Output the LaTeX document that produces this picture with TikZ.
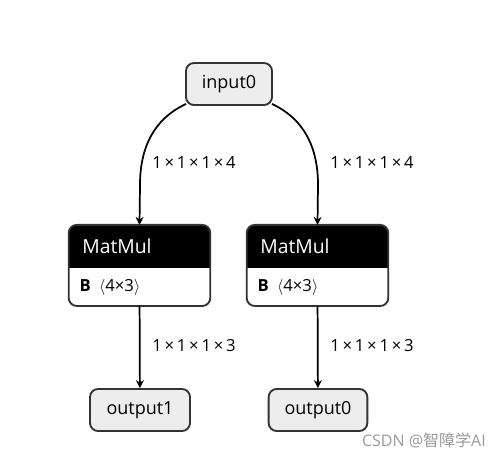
\documentclass[tikz,border=0pt]{standalone}
\usepackage{fontspec}
\setmainfont{Open Sans}
\newfontfamily\cjkfont{Noto Sans CJK SC}
\usetikzlibrary{positioning,arrows.meta}

\begin{document}
\begin{tikzpicture}[x=0.75pt,y=-0.75pt,
  io/.style={draw=black!80,fill=black!7,rounded corners=6pt,line width=1.4pt,minimum height=31.5pt,font=\fontsize{13.5}{15}\selectfont},
  head/.style={text=white,minimum width=105.75pt,minimum height=32pt,inner xsep=10pt,text width=85.75pt,align=left,font=\fontsize{14.5}{16}\selectfont},
  body/.style={minimum width=105.75pt,minimum height=28pt,inner xsep=8pt,text width=89.75pt,align=left,font=\fontsize{12.5}{14}\selectfont},
  dim/.style={font=\fontsize{12.5}{14}\selectfont,inner sep=0pt},
  edge/.style={-{Stealth[length=6pt,width=6pt]},line width=1.3pt}]
  \useasboundingbox (0,0) rectangle (499,457);

  \node[io,minimum width=64.5pt] (in0) at (229,84) {input0};

  \node[head] (mm1) at (139.5,246.5) {MatMul};
  \node[body,below=0pt of mm1] (mm1b) {\textbf{B} \,$\langle$4×3$\rangle$};
  \node[head] (mm2) at (317.5,246.5) {MatMul};
  \node[body,below=0pt of mm2] (mm2b) {\textbf{B} \,$\langle$4×3$\rangle$};

  \node[io,minimum width=75pt] (out1) at (140,410) {output1};
  \node[io,minimum width=74pt] (out0) at (318,410) {output0};

  % black headers and frames of the two MatMul boxes
  \begin{scope}
    \clip[rounded corners=6pt] (mm1.north west) rectangle (mm1b.south east);
    \fill (mm1.north west) rectangle (mm1.south east);
  \end{scope}
  \begin{scope}
    \clip[rounded corners=6pt] (mm2.north west) rectangle (mm2b.south east);
    \fill (mm2.north west) rectangle (mm2.south east);
  \end{scope}
  \node[head] at (mm1) {MatMul};
  \node[head] at (mm2) {MatMul};
  \draw[black!80,line width=1.4pt,rounded corners=6pt] (mm1.north west) rectangle (mm1b.south east);
  \draw[black!80,line width=1.4pt,rounded corners=6pt] (mm2.north west) rectangle (mm2b.south east);

  \coordinate (b1) at (140,185);
  \coordinate (b2) at (318,185);
  \draw[edge] (in0.south west) ++(1,-2) to[out=205,in=90] (b1) -- (mm1.north);
  \draw[edge] (in0.south east) ++(-1,-2) to[out=-25,in=90] (b2) -- (mm2.north);
  \draw[edge] (mm1b) -- (out1);
  \draw[edge] (mm2b) -- (out0);

  \node[dim,anchor=west] (l1) at (152,163) {1\,×\,1\,×\,1\,×\,4};
  \node[dim,anchor=west] (l2) at (330,163) {1\,×\,1\,×\,1\,×\,4};
  \node[dim,anchor=west] (l3) at (152,346) {1\,×\,1\,×\,1\,×\,3};
  \node[dim,anchor=west] (l4) at (330,346) {1\,×\,1\,×\,1\,×\,3};

  \node[text=black!40,anchor=east,inner sep=0pt,font=\fontsize{12}{14}\selectfont] (wm) at (486,440) {CSDN @{\cjkfont 智障学}AI};
\end{tikzpicture}
\end{document}
